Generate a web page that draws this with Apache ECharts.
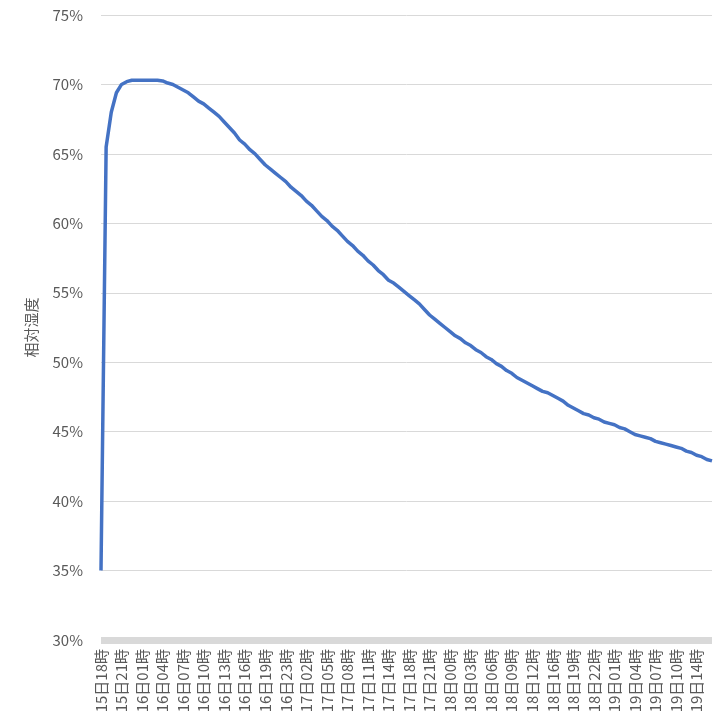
<!DOCTYPE html>
<html><head><meta charset="utf-8">
<script src="https://cdn.jsdelivr.net/npm/echarts@6/dist/echarts.min.js"></script>
<style>html,body{margin:0;padding:0;background:#fff}#c{width:725px;height:727px}</style>
</head><body><div id="c"></div>
<script>
const tickLabels = ['15日18時','15日21時','16日01時','16日04時','16日07時','16日10時','16日13時','16日16時','16日19時','16日23時','17日02時','17日05時','17日08時','17日11時','17日14時','17日18時','17日21時','18日00時','18日03時','18日06時','18日09時','18日12時','18日16時','18日19時','18日22時','19日01時','19日04時','19日07時','19日10時','19日14時'];
const pointsPerTick = 4;
const humidity = [35.0,65.5,68.0,69.4,70.0,70.2,70.3,70.3,70.3,70.3,70.3,70.3,70.25,70.1,70.0,69.8,69.6,69.4,69.1,68.8,
68.6,68.3,68.0,67.7,67.3,66.9,66.5,66.0,65.7,65.3,65.0,64.6,64.2,63.9,63.6,63.3,63.0,62.6,62.3,62.0,
61.6,61.3,60.9,60.5,60.2,59.8,59.5,59.1,58.7,58.4,58.0,57.7,57.3,57.0,56.6,56.3,55.9,55.7,55.4,55.1,
54.8,54.5,54.2,53.8,53.4,53.1,52.8,52.5,52.2,51.9,51.7,51.4,51.2,50.9,50.7,50.4,50.2,49.9,49.7,49.4,
49.2,48.9,48.7,48.5,48.3,48.1,47.9,47.8,47.6,47.4,47.2,46.9,46.7,46.5,46.3,46.2,46.0,45.9,45.7,45.6,
45.5,45.3,45.2,45.0,44.8,44.7,44.6,44.5,44.3,44.2,44.1,44.0,43.9,43.8,43.6,43.5,43.3,43.2,43.0,42.9];
const categories = humidity.map((v,i)=> (tickLabels[Math.floor(i/pointsPerTick)]||'') + '#' + i);
const chart = echarts.init(document.getElementById('c'));
chart.setOption({
  animation:false,
  grid:{left:101,right:13,top:15,bottom:87},
  xAxis:{type:'category',data:categories,boundaryGap:false,
    axisLine:{lineStyle:{color:'#d9d9d9',width:7,cap:'butt'}},axisTick:{show:false},
    axisLabel:{interval:pointsPerTick-1,rotate:90,color:'#595959',fontSize:15,fontFamily:'Noto Sans CJK JP',margin:9,
      formatter:v=>v.split('#')[0]}},
  yAxis:{type:'value',min:30,max:75,interval:5,name:'相対湿度',nameLocation:'middle',nameGap:62,
    nameTextStyle:{color:'#595959',fontSize:15,fontFamily:'Noto Sans CJK JP'},
    axisLabel:{formatter:'{value}%',color:'#595959',fontSize:15,fontFamily:'Noto Sans CJK JP',margin:18},
    splitLine:{lineStyle:{color:'#d9d9d9'}},axisLine:{show:false},axisTick:{show:false}},
  series:[{type:'line',data:humidity,showSymbol:false,lineStyle:{color:'#4472c4',width:3.5},itemStyle:{color:'#4472c4'}}]
});
</script></body></html>
